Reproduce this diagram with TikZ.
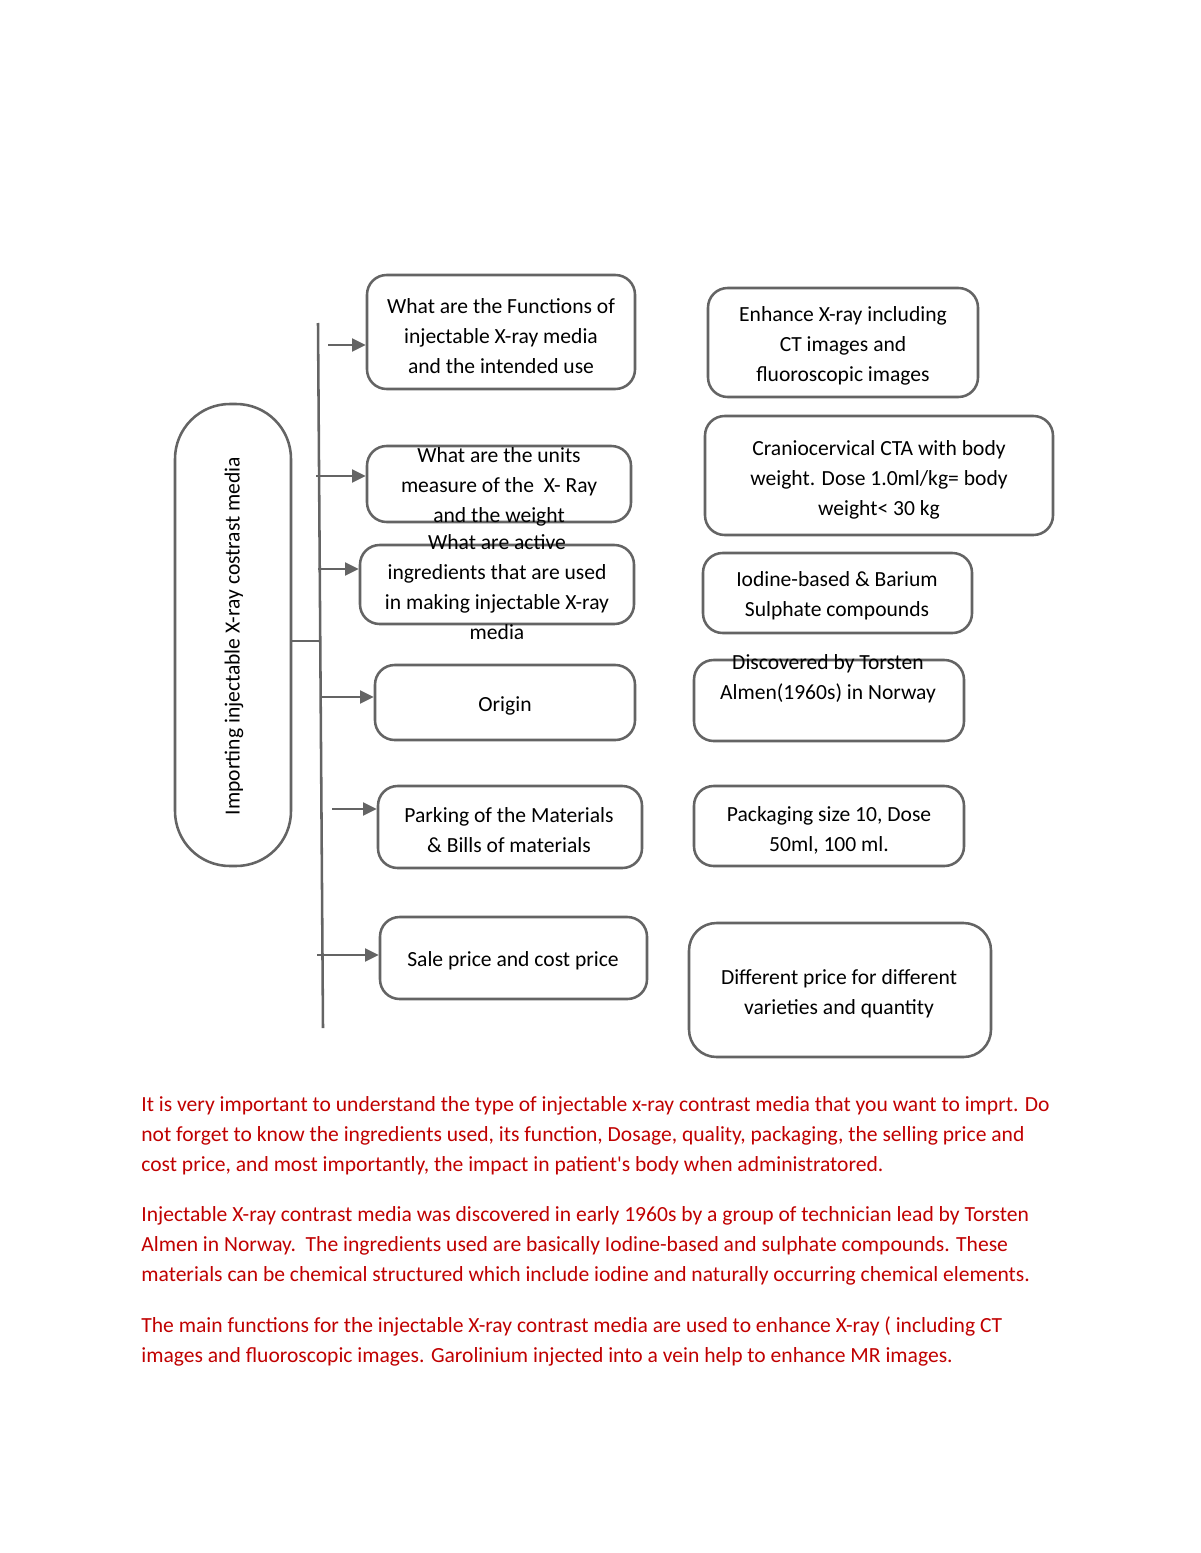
\documentclass[tikz,border=0pt]{standalone}
\usepackage{fontspec}
\setmainfont{Carlito}
\newfontfamily\plaincarlito{Carlito}[Ligatures=ResetAll]
\usetikzlibrary{arrows.meta}
\definecolor{lineg}{RGB}{100,100,100}
\definecolor{redtxt}{RGB}{192,0,0}
\tikzset{
  box/.style={draw=lineg, line width=1.3pt, rounded corners=10pt, inner sep=0pt},
  txt/.style={align=center, font=\fontsize{11}{15.3}\selectfont, inner sep=0pt},
  arr/.style={draw=lineg, line width=1.4pt, -{Triangle[length=7pt,width=6.5pt]}},
  ln/.style={draw=lineg, line width=1.3pt},
  para/.style={anchor=north west, align=left, text=redtxt, font=\fontsize{11}{15.3}\selectfont, inner sep=0pt}
}
\begin{document}
\begin{tikzpicture}[x=0.51pt,y=-0.51pt]
\useasboundingbox (0,0) rectangle (1200,1553);
% main box
\node[box, rounded corners=28pt, minimum width=116*0.51pt, minimum height=462*0.51pt] (main) at (233,635) {};
\node[txt, rotate=90] (maintxt) at (234,636) {Importing injectable X-ray costrast media};
% left boxes
\node[box, minimum width=268*0.51pt, minimum height=114*0.51pt] (b1) at (501,332) {};
\node[txt] (t1) at (501,336) {What are the Functions of\\injectable X-ray media\\and the intended use};
\node[box, minimum width=264*0.51pt, minimum height=76*0.51pt] (b2) at (499,484) {};
\node[txt] (t2) at (499,487) {What are the units\\measure of the\ \ X- Ray\\and the weight};
\node[box, minimum width=274*0.51pt, minimum height=79*0.51pt] (b3) at (497,584.5) {};
\node[txt] (t3) at (497,587) {What are active\\ingredients that are used\\in making injectable X-ray\\media};
\node[box, minimum width=260*0.51pt, minimum height=75*0.51pt] (b4) at (505,702.5) {};
\node[txt] (t4) at (505,706) {Origin};
\node[box, minimum width=264*0.51pt, minimum height=82*0.51pt] (b5) at (510,827) {};
\node[txt] (t5) at (509,830) {Parking of the Materials\\\& Bills of materials};
\node[box, minimum width=267*0.51pt, minimum height=82*0.51pt] (b6) at (513.5,958) {};
\node[txt] (t6) at (513,961) {Sale price and cost price};
% right boxes
\node[box, minimum width=270*0.51pt, minimum height=109*0.51pt] (r1) at (843,342.5) {};
\node[txt] (u1) at (843,346) {Enhance X-ray including\\CT images and\\fluoroscopic images};
\node[box, minimum width=348*0.51pt, minimum height=119*0.51pt] (r2) at (879,475.5) {};
\node[txt] (u2) at (879,479.5) {Craniocervical CTA with body\\weight. Dose 1.0ml/kg= body\\weight< 30 kg};
\node[box, minimum width=269*0.51pt, minimum height=80*0.51pt] (r3) at (837.5,593) {};
\node[txt] (u3) at (837,596) {Iodine-based \& Barium\\Sulphate compounds};
\node[box, minimum width=270*0.51pt, minimum height=81*0.51pt] (r4) at (829,700.5) {};
\node[txt] (u4) at (828,679) {Discovered by Torsten\\Almen(1960s) in Norway};
\node[box, minimum width=270*0.51pt, minimum height=80*0.51pt] (r5) at (829,826) {};
\node[txt] (u5) at (829,830) {Packaging size 10, Dose\\50ml, 100 ml.};
\node[box, rounded corners=14pt, minimum width=302*0.51pt, minimum height=134*0.51pt] (r6) at (840,990) {};
\node[txt] (u6) at (839,994) {Different price for different\\varieties and quantity};
% spine
\coordinate (s1) at (318,323);
\coordinate (s2) at (323,1028);
\draw[ln] (s1) -- (s2);
\coordinate (m) at (320,641);
\draw[ln] (main.east |- m) -- (m);
% arrows
\coordinate (a1) at (328,345);
\coordinate (a2) at (316,476);
\coordinate (a3) at (318,569);
\coordinate (a4) at (322,697);
\coordinate (a5) at (332,809);
\coordinate (a6) at (317,955);
\draw[arr] (a1) -- (b1.west |- a1);
\draw[arr] (a2) -- (b2.west |- a2);
\draw[arr] (a3) -- (b3.west |- a3);
\draw[arr] (a4) -- (b4.west |- a4);
\draw[arr] (a5) -- (b5.west |- a5);
\draw[arr] (a6) -- (b6.west |- a6);
% paragraphs
\node[para] (p1) at (141,1096) {It is very important to understand the type of injectable x-ray contrast media that you want to imprt. Do\\not forget to know the ingredients used, its function, Dosage, quality, packaging, the selling price and\\cost price, and most importantly, the impact in patient{\plaincarlito '}s body when administratored.};
\node[para] (p2) at (141,1206) {Injectable X-ray contrast media was discovered in early 1960s by a group of technician lead by Torsten\\Almen in Norway.\ \ The ingredients used are basically Iodine-based and sulphate compounds. These\\materials can be chemical structured which include iodine and naturally occurring chemical elements.};
\node[para] (p3) at (141,1316) {The main functions for the injectable X-ray contrast media are used to enhance X-ray ( including CT\\images and fluoroscopic images. Garolinium injected into a vein help to enhance MR images.};
\end{tikzpicture}
\end{document}
